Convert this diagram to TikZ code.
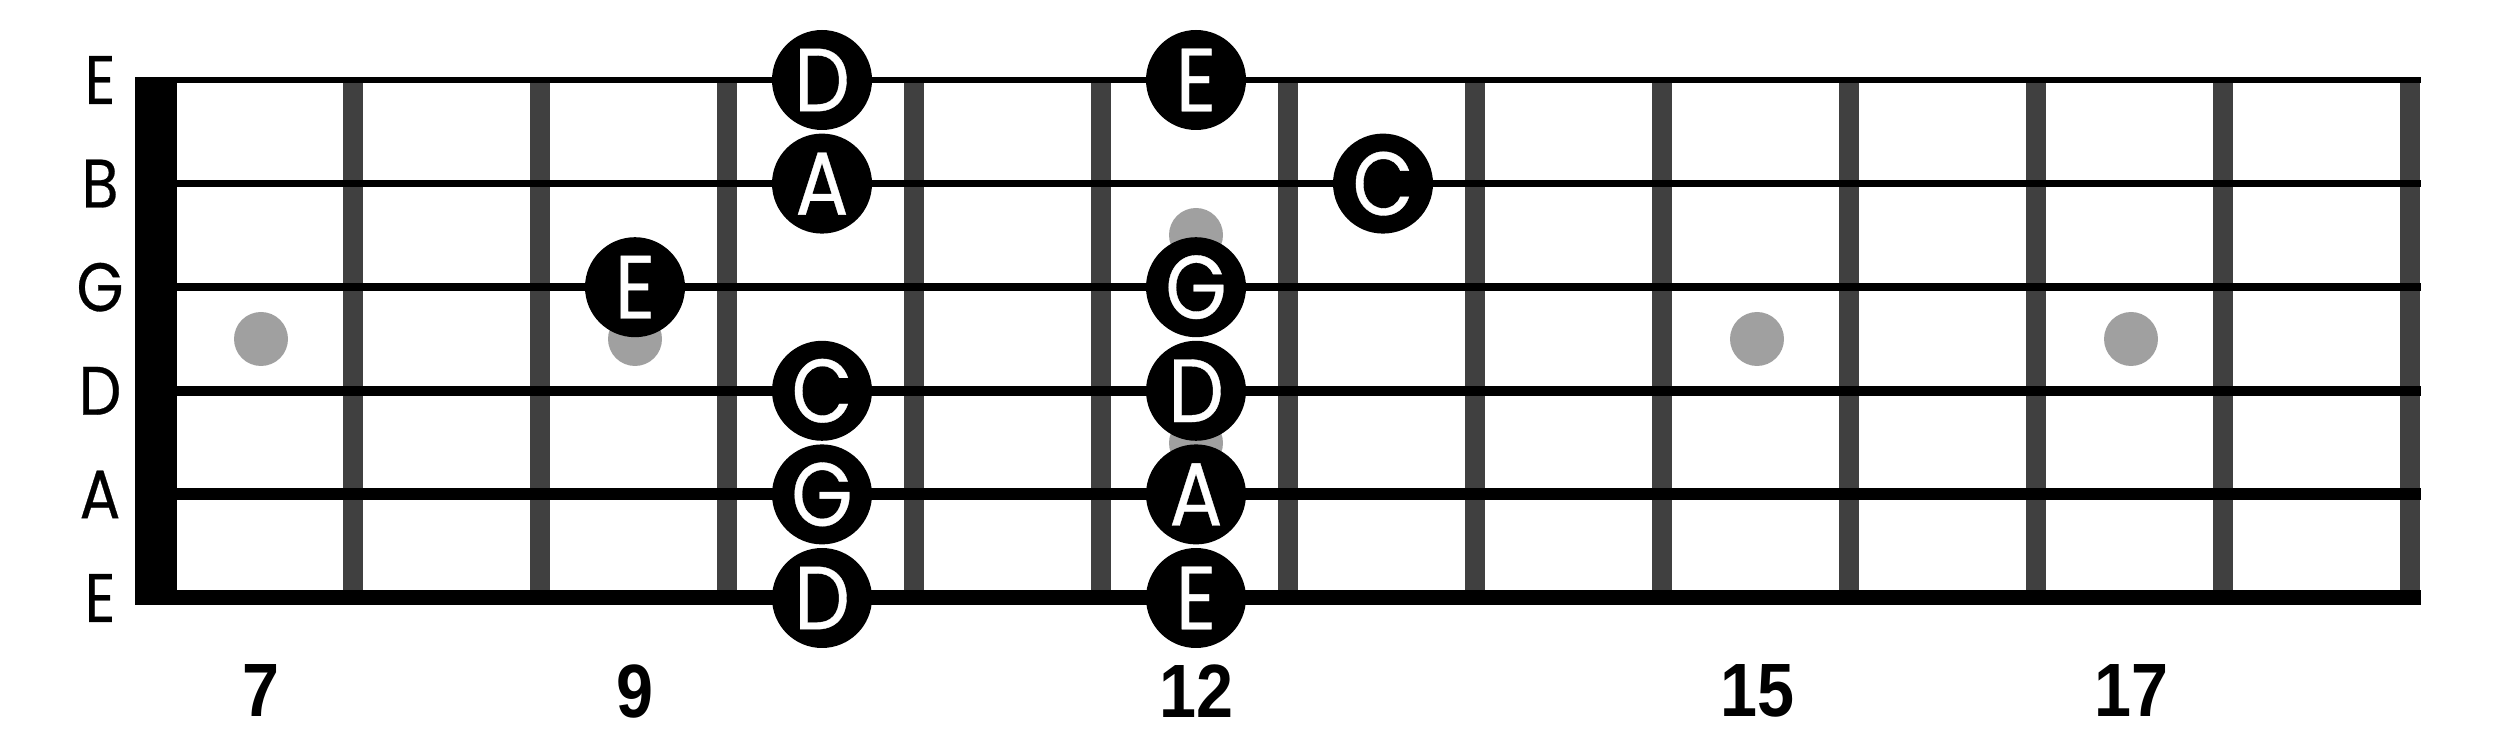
\documentclass[tikz,border=0pt]{standalone}
\usepackage{fontspec}
\newfontfamily\notefont[FakeStretch=0.88,FakeBold=0.4]{Poppins}
\newfontfamily\numfont[FakeStretch=0.88]{Liberation Sans}
\definecolor{fretgray}{HTML}{404040}
\definecolor{inlaygray}{HTML}{A0A0A0}
\begin{document}
\begin{tikzpicture}[x=0.1mm,y=-0.1mm,line cap=butt,
		note/.style={circle,fill=black,inner sep=0pt,minimum size=10mm,
			text=white,font=\notefont\fontsize{25.5}{28}\selectfont},
		inlay/.style={circle,fill=inlaygray,inner sep=0pt,minimum size=5.4mm},
		strname/.style={font=\notefont\fontsize{19.5}{22}\selectfont},
		fretnum/.style={font=\numfont\bfseries\fontsize{21.5}{24}\selectfont}]
	\useasboundingbox (0,0) rectangle (2500,736);
	\def\sy{103.6}
	\def\fw{187}
	\def\xo{261}
	\foreach \k in {0,...,11}
	\draw[fretgray,line width=2mm] ({353+\k*\fw},80) -- ({353+\k*\fw},598);
	\fill (135,77) rectangle (177,605);
	\foreach \s/\w [count=\i from 0] in {E/0.65,B/0.7,G/0.75,D/1.0,A/1.2,E/1.5}{
		\draw[line width=\w mm] (135,{80+\i*\sy}) -- (2421,{80+\i*\sy});
		\node[strname] (lab\i) at (100,{80+\i*\sy}) {\s};
	}
	\foreach \f/\y [count=\i] in {7/339,9/339,12/235,12/443,15/339,17/339}
	\node[inlay] (dot\i) at ({\xo+(\f-7)*\fw},\y) {};
	\foreach \s/\f/\n in {0/10/D,0/12/E,1/10/A,1/13/C,2/9/E,2/12/G,
		3/10/C,3/12/D,4/10/G,4/12/A,5/10/D,5/12/E}
	\node[note] (\n\s-\f) at ({\xo+(\f-7)*\fw},{80+\s*\sy}) {\n};
	\foreach \f in {7,9,12,15,17}
	\node[fretnum] (num\f) at ({\xo+(\f-7)*\fw},691) {\f};
\end{tikzpicture}
\end{document}
